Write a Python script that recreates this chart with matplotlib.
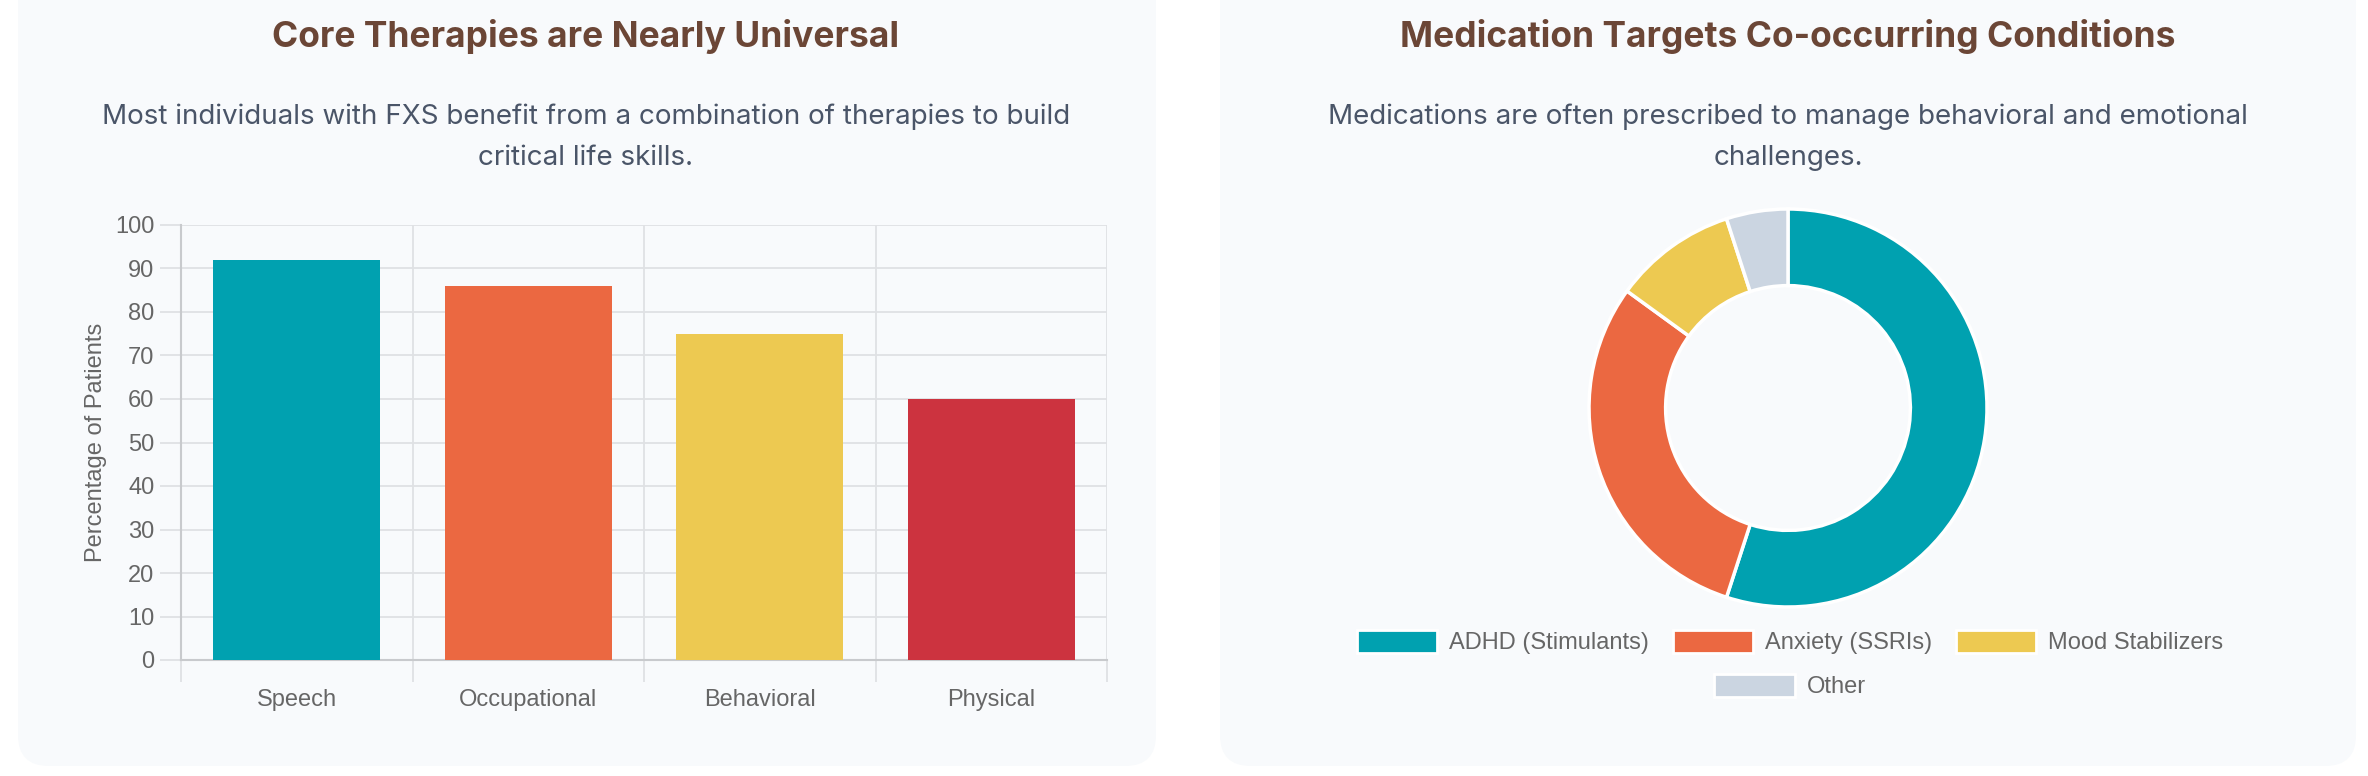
import matplotlib
matplotlib.use("Agg")
import matplotlib.pyplot as plt
from matplotlib.patches import FancyBboxPatch, Patch

# --- Datos ---
terapias = ["Speech", "Occupational", "Behavioral", "Physical"]
pct_pacientes = [92, 86, 75, 60]
colores_barras = ["#00A1B0", "#EB6841", "#EDC951", "#CC333F"]

medicamentos = ["ADHD (Stimulants)", "Anxiety (SSRIs)", "Mood Stabilizers", "Other"]
pct_medicamentos = [55, 30, 10, 5]
colores_dona = ["#00A1B0", "#EB6841", "#EDC951", "#CBD5E1"]

y_ticks = list(range(0, 101, 10))

W, H = 2368, 776
FONDO_TARJETA = "#F8FAFC"
COLOR_TITULO = "#6B4636"
COLOR_SUB = "#4A5568"
COLOR_TICK = "#666666"
COLOR_GRID = "#DFE1E4"

TITULO_FONT = "Inter"
TICK_FONT = "Liberation Sans"


def px(x, y, w, h):
  # convierte pixeles (desde arriba-izquierda) a coordenadas de figura
  return [x / W, 1 - (y + h) / H, w / W, h / H]


fig = plt.figure(figsize=(W / 100, H / 100), dpi=100)
fig.patch.set_facecolor("white")

# Tarjetas de fondo
for x0, x1 in [(18, 1156), (1220, 2356)]:
  fig.patches.append(
      FancyBboxPatch(
          (x0 / W, 1 - 766 / H),
          (x1 - x0) / W,
          (766 + 40) / H,
          boxstyle="round,pad=0,rounding_size=0.013",
          transform=fig.transFigure,
          facecolor=FONDO_TARJETA,
          edgecolor="none",
          zorder=-10,
          mutation_aspect=W / H,
      )
  )

# Títulos
fig.text(586 / W, 1 - 37 / H, "Core Therapies are Nearly Universal",
         ha="center", va="center", fontsize=25.5, fontweight="bold",
         color=COLOR_TITULO, family=TITULO_FONT)
fig.text(586 / W, 1 - 137 / H,
         "Most individuals with FXS benefit from a combination of therapies to build\ncritical life skills.",
         ha="center", va="center", fontsize=20, color=COLOR_SUB,
         family=TITULO_FONT, linespacing=1.75)
fig.text(1788 / W, 1 - 37 / H, "Medication Targets Co-occurring Conditions",
         ha="center", va="center", fontsize=25.5, fontweight="bold",
         color=COLOR_TITULO, family=TITULO_FONT)
fig.text(1788 / W, 1 - 137 / H,
         "Medications are often prescribed to manage behavioral and emotional\nchallenges.",
         ha="center", va="center", fontsize=20, color=COLOR_SUB,
         family=TITULO_FONT, linespacing=1.75)

# --- Gráfico de barras ---
ax = fig.add_axes(px(181, 225, 926, 435))
ax.set_facecolor("none")
x = list(range(len(terapias)))
ax.bar(x, pct_pacientes, width=0.72, color=colores_barras, zorder=3)
ax.set_xlim(-0.5, len(terapias) - 0.5)
ax.set_ylim(0, 100)
ax.set_yticks(y_ticks)
ax.set_yticklabels([str(v) for v in y_ticks], family=TICK_FONT,
                   fontsize=17, color=COLOR_TICK)
ax.set_xticks([i - 0.5 for i in range(len(terapias) + 1)])
ax.set_xticklabels([])
ax.set_xticks(x, minor=True)
ax.set_xticklabels(terapias, minor=True, family=TICK_FONT, fontsize=17,
                   color=COLOR_TICK)
ax.tick_params(axis="x", which="minor", length=0, pad=21)
ax.tick_params(axis="x", which="major", length=16, color=COLOR_GRID, width=1.3)
ax.tick_params(axis="y", length=15, color=COLOR_GRID, width=1.3, pad=4)
ax.grid(True, which="major", color=COLOR_GRID, linewidth=1.3, zorder=0)
for lado in ["top", "right"]:
  ax.spines[lado].set_visible(False)
for lado in ["left", "bottom"]:
  ax.spines[lado].set_color("#C8CACD")
  ax.spines[lado].set_linewidth(1.5)
ax.set_ylabel("Percentage of Patients", family=TICK_FONT, fontsize=17,
              color=COLOR_TICK, labelpad=6)

# --- Gráfico de dona ---
r = 199
ax2 = fig.add_axes(px(1788 - r, 408 - r, 2 * r, 2 * r))
ax2.pie(
    pct_medicamentos,
    colors=colores_dona,
    startangle=90,
    counterclock=False,
    radius=1,
    wedgeprops=dict(width=0.385, edgecolor="white", linewidth=2.5),
)
ax2.set_xlim(-1, 1)
ax2.set_ylim(-1, 1)
ax2.set_aspect("equal")
ax2.axis("off")

manejadores = [Patch(facecolor=c, edgecolor="white", linewidth=2)
               for c in colores_dona]
estilo_leyenda = dict(
    frameon=False, loc="center", handlelength=3.4, handleheight=1.15,
    handletextpad=0.5, columnspacing=1.0, borderpad=0,
    prop=dict(family=TICK_FONT, size=17),
    labelcolor=COLOR_TICK,
)
fig.legend(manejadores[:3], medicamentos[:3], ncol=3,
           bbox_to_anchor=(1790 / W, 1 - 642 / H), **estilo_leyenda)
fig.legend(manejadores[3:], medicamentos[3:], ncol=1,
           bbox_to_anchor=(1790 / W, 1 - 686 / H), **estilo_leyenda)

fig.savefig("out.png", dpi=100, facecolor=fig.get_facecolor())
